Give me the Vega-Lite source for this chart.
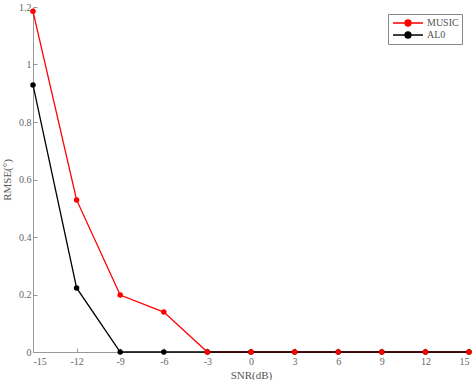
{
  "$schema": "https://vega.github.io/schema/vega-lite/v6.json",
  "width": 436,
  "height": 345,
  "autosize": "none",
  "padding": {"left": 33, "top": 7, "right": 5, "bottom": 28},
  "background": "white",
  "config": {
    "view": {"stroke": null},
    "font": "Liberation Serif",
    "axis": {"grid": false, "domainColor": "#999", "tickColor": "#999", "labelColor": "#666", "titleColor": "#555", "labelFont": "Liberation Serif", "titleFont": "Liberation Serif", "labelFontSize": 10, "titleFontSize": 11, "titleFontWeight": "normal", "tickSize": -4}
  },
  "data": {
    "values": [
      {"snr": -15, "rmse": 1.185, "method": "MUSIC"},
      {"snr": -12, "rmse": 0.529, "method": "MUSIC"},
      {"snr": -9, "rmse": 0.198, "method": "MUSIC"},
      {"snr": -6, "rmse": 0.139, "method": "MUSIC"},
      {"snr": -3, "rmse": 0, "method": "MUSIC"},
      {"snr": 0, "rmse": 0, "method": "MUSIC"},
      {"snr": 3, "rmse": 0, "method": "MUSIC"},
      {"snr": 6, "rmse": 0, "method": "MUSIC"},
      {"snr": 9, "rmse": 0, "method": "MUSIC"},
      {"snr": 12, "rmse": 0, "method": "MUSIC"},
      {"snr": 15, "rmse": 0, "method": "MUSIC"},
      {"snr": -15, "rmse": 0.929, "method": "AL0"},
      {"snr": -12, "rmse": 0.223, "method": "AL0"},
      {"snr": -9, "rmse": 0, "method": "AL0"},
      {"snr": -6, "rmse": 0, "method": "AL0"},
      {"snr": -3, "rmse": 0, "method": "AL0"},
      {"snr": 0, "rmse": 0, "method": "AL0"},
      {"snr": 3, "rmse": 0, "method": "AL0"},
      {"snr": 6, "rmse": 0, "method": "AL0"},
      {"snr": 9, "rmse": 0, "method": "AL0"},
      {"snr": 12, "rmse": 0, "method": "AL0"},
      {"snr": 15, "rmse": 0, "method": "AL0"}
    ]
  },
  "encoding": {
    "x": {"field": "snr", "type": "quantitative", "scale": {"domain": [-15, 15], "nice": false, "zero": false},
      "axis": {"values": [-15, -12, -9, -6, -3, 0, 3, 6, 9, 12, 15], "labelExpr": "'' + datum.value", "title": "SNR(dB)", "labelPadding": 8, "titlePadding": 3}},
    "y": {"field": "rmse", "type": "quantitative", "scale": {"domain": [0, 1.2], "nice": false},
      "axis": {"values": [0, 0.2, 0.4, 0.6, 0.8, 1, 1.2], "labelExpr": "'' + datum.value", "title": "RMSE(°)", "labelPadding": 6, "titlePadding": 6}},
    "color": {"field": "method", "type": "nominal", "scale": {"domain": ["MUSIC", "AL0"], "range": ["#ff0000", "#000000"]},
      "legend": {"title": null, "orient": "none", "legendX": 355, "legendY": 7, "strokeColor": "#888", "padding": 3, "fillColor": "white",
        "symbolType": "M-0.8,0H5.2M2.8,0A0.6,0.6,0,1,1,1.6,0A0.6,0.6,0,1,1,2.8,0Z", "symbolSize": 100, "symbolStrokeWidth": 1.3,
        "labelFont": "Liberation Serif", "labelFontSize": 10, "labelColor": "#555", "rowPadding": 0, "labelOffset": 24}},
    "order": {"field": "method"}
  },
  "layer": [
    {"mark": {"type": "line", "strokeWidth": 1.3}, "encoding": {"detail": {"field": "method"}}},
    {"mark": {"type": "circle", "size": 30, "opacity": 1}}
  ]
}
